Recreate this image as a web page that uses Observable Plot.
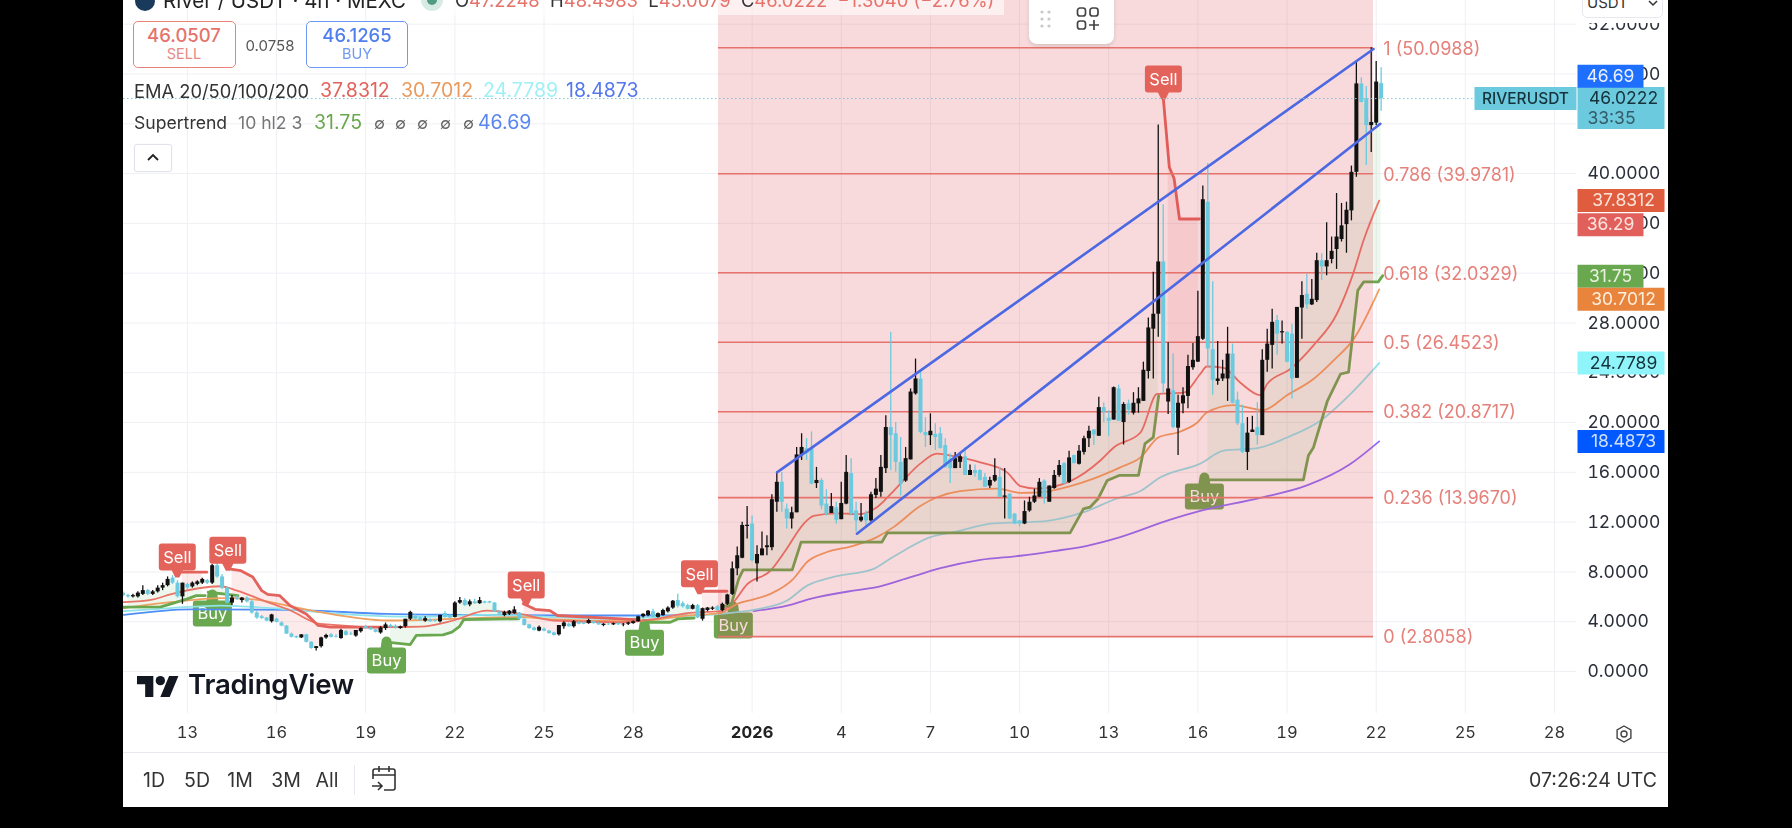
<!DOCTYPE html>
<html><head><meta charset="utf-8">
<style>
html,body{margin:0;padding:0;background:#000;width:1792px;height:828px;overflow:hidden;font-family:Inter,"Noto Sans",sans-serif}
#panel{position:absolute;left:123px;top:0;width:1545px;height:807px;background:#fff;overflow:hidden}
#chart{position:absolute;left:0;top:0;filter:blur(.45px)}
#chart svg{display:block}
#chrome{filter:blur(.4px)}
.a{position:absolute;white-space:nowrap;line-height:1}
.box{position:absolute;box-sizing:border-box;background:#fff;border-radius:5px}
</style>
<script src="https://cdn.jsdelivr.net/npm/d3@7"></script>
<script src="https://cdn.jsdelivr.net/npm/@observablehq/plot@0.6"></script>
</head><body>
<div id="panel"></div>
<div id="chart"></div>
<div id="chrome"></div>
<script>
// ---- Candles, 4h apart, rows of [open, high, low, close] ----
const lateDecemberA = [
[6.3,6.4,6.0,6.1],[6.1,6.2,5.9,6.0],[6.0,6.2,5.9,6.1],[6.0,6.4,5.9,6.3],[6.2,6.9,6.1,6.5],[6.5,6.6,6.1,6.2],[6.2,6.5,6.1,6.4],[6.4,6.9,6.3,6.7],[6.7,7.1,6.5,6.9],[6.9,7.6,6.8,7.4],
[7.5,7.7,7.0,7.1],[7.1,7.3,5.9,6.0],[6.0,7.1,5.4,7.1],[7.0,7.1,6.6,6.7],[6.8,7.2,6.7,7.1],[7.0,7.3,6.9,7.2],[7.1,7.5,7.0,7.4],[7.3,7.4,7.0,7.1],[7.1,8.6,7.0,8.5],[8.5,8.8,7.5,7.6],
[7.6,7.8,6.6,6.7],[6.7,6.8,5.4,5.5],[5.5,6.1,5.3,5.9],[5.9,6.1,5.7,5.8],[5.7,5.95,5.5,5.9],[5.9,6.0,5.5,5.6],[5.6,5.7,4.6,4.7],[4.7,4.8,4.2,4.3],[4.4,4.5,4.2,4.25],[4.3,4.35,4.0,4.05],
[4.0,4.6,3.9,4.55],[4.2,4.3,3.9,3.95],[3.9,4.0,3.6,3.65],[3.65,3.7,3.0,3.0],[3.0,3.1,2.7,2.75],[2.8,2.85,2.65,2.7],[2.7,2.95,2.65,2.95],[2.95,3.0,2.3,2.35],[2.35,2.4,1.8,1.85],[1.85,2.0,1.65,2.0],
[2.0,2.75,1.9,2.7],[2.7,3.0,2.6,2.9],[2.95,3.05,2.7,2.75],[2.8,2.95,2.7,2.75],[2.65,3.4,2.6,3.3],[3.2,3.3,2.85,2.9],[3.0,3.15,2.9,2.95],[2.85,3.3,2.75,3.3],[3.2,3.5,3.1,3.45],[3.6,3.7,3.4,3.45]
];
const lateDecemberB = [
[3.5,3.55,3.3,3.35],[3.35,3.4,3.1,3.15],[3.1,3.6,3.0,3.5],[3.45,3.9,3.3,3.75],[3.7,3.8,3.5,3.6],[3.65,3.75,3.4,3.5],[3.45,3.65,3.4,3.6],[3.6,4.2,3.5,4.2],[4.2,4.85,4.1,4.75],[4.45,4.6,4.15,4.2],
[4.3,4.4,4.05,4.1],[4.05,4.4,3.95,4.25],[4.15,4.25,3.95,4.0],[4.1,4.2,3.95,4.05],[4.0,4.55,3.9,4.5],[4.65,4.8,4.3,4.35],[4.5,4.6,4.25,4.3],[4.35,5.6,4.3,5.5],[5.5,5.95,5.4,5.7],[5.7,5.85,5.25,5.3],
[5.35,5.75,5.2,5.6],[5.6,5.8,5.4,5.45],[5.45,5.95,5.4,5.7],[5.6,5.65,5.45,5.5],[5.6,5.65,5.45,5.5],[5.5,5.55,4.75,4.8],[4.8,4.9,4.55,4.6],[4.5,4.85,4.4,4.75],[4.6,4.9,4.5,4.85],[4.65,5.2,4.6,4.95],
[4.7,4.75,4.15,4.2],[4.2,4.25,3.65,3.7],[3.75,3.8,3.4,3.45],[3.5,3.55,3.25,3.3],[3.25,3.65,3.2,3.55],[3.4,3.5,3.2,3.25],[3.25,3.3,3.0,3.05],[3.1,3.15,2.85,2.9],[2.95,3.7,2.85,3.7],[3.6,4.0,3.4,3.9],
[3.8,3.9,3.55,3.6],[3.6,4.1,3.5,4.0],[3.95,4.0,3.75,3.8],[3.9,4.0,3.75,3.8],[3.85,4.2,3.8,4.1],[4.0,4.1,3.8,3.85],[3.85,3.95,3.7,3.75],[3.7,3.85,3.6,3.8],[3.8,3.85,3.7,3.75],[3.75,3.9,3.7,3.85],[3.85,3.9,3.7,3.75]
];
const yearEnd = [
[3.75,3.85,3.6,3.8],[3.8,3.95,3.7,3.9],[3.85,4.05,3.8,4.0],[4.0,4.45,3.95,4.4],[4.4,4.65,4.3,4.6],[4.5,4.9,4.4,4.85],[4.8,5.0,4.3,4.35],[4.35,4.7,4.3,4.65],[4.5,5.0,4.45,4.9],[4.8,5.2,4.7,5.1],
[5.1,5.7,5.0,5.65],[5.7,6.2,5.1,5.25],[5.45,5.6,5.1,5.2],[5.3,5.4,4.95,5.0],[5.0,5.4,4.95,5.3],[5.3,5.4,4.25,4.3],[4.2,5.1,4.05,5.05],[4.9,5.15,4.8,5.1],[5.0,5.2,4.9,5.1],[5.2,5.3,4.85,4.9],
[4.9,5.5,4.8,5.4],[5.4,6.2,5.3,6.15],[6.2,8.8,6.1,8.25],[8.25,10.0,7.7,9.3],[9.1,12.0,9.05,11.73],[11.65,13.25,10.65,11.75]
];
const earlyJanuary = [
[11.85,12.5,8.8,8.9],[8.65,10.1,7.2,9.4],[9.3,11.2,9.3,9.85],[9.95,10.9,9.3,10.1],[9.95,14.2,9.7,13.8],[13.6,16.0,12.8,15.2],[15.2,16.0,12.8,13.6],[13.05,13.45,11.45,12.25],[12.25,13.2,11.45,12.75],[12.75,18.0,12.75,17.4],
[17.35,19.1,16.95,18.0],[17.9,18.7,16.95,17.5],[17.95,19.25,15.0,15.05],[15.1,16.4,14.7,15.35],[15.35,15.5,13.0,13.3],[13.45,14.6,12.5,12.65],[12.7,14.3,12.7,13.25],[13.15,13.6,11.85,12.15],[12.2,15.2,12.2,13.5],[13.45,17.35,13.4,16.0],
[15.9,17.1,12.5,12.65],[12.9,13.6,11.2,12.1],[12.1,13.5,12.0,12.4],[12.65,12.9,11.6,12.1],[12.1,14.4,12.0,14.2],[14.15,15.5,13.9,14.65],[14.4,17.35,14.0,16.4],[16.3,20.55,15.9,19.6],[19.6,27.25,16.15,18.95],[19.1,20.0,16.0,16.8],
[16.8,18.8,14.1,15.05],[15.3,18.0,15.2,17.1],[17.0,22.7,17.0,22.45],[22.3,25.1,22.2,23.5],[23.5,24.2,19.1,19.2],[19.2,20.4,18.0,18.95],[18.95,20.7,18.15,19.3],[19.05,19.9,17.75,18.8],[19.1,19.6,17.9,17.9],[18.15,18.7,16.3,16.4],
[17.05,17.5,15.1,16.3],[16.3,17.6,16.3,17.1],[16.8,17.6,16.3,17.25],[17.25,18.0,15.75,15.75],[15.75,16.6,15.75,16.15],[16.15,16.6,15.6,15.9],[16.15,16.2,15.3,15.35],[15.6,15.9,14.8,14.8],[14.9,15.6,14.7,15.35],[15.3,17.1,15.2,15.75]
];
const midJanuary = [
[15.6,16.4,14.0,14.0],[14.0,16.3,12.25,14.1],[14.25,14.3,12.2,12.25],[12.65,12.7,11.8,11.85],[12.1,12.15,11.6,11.85],[11.85,13.7,11.8,12.85],[12.9,14.0,12.8,13.6],[13.6,14.65,13.5,14.1],[14.0,15.5,14.0,15.2],[15.3,15.4,13.45,13.98],
[13.6,14.9,13.6,14.9],[14.7,16.15,14.65,15.75],[15.75,16.95,15.6,16.55],[16.7,16.8,15.07,15.07],[15.2,17.7,15.1,17.16],[17.35,17.4,16.7,16.7],[16.65,18.15,16.6,17.7],[17.6,18.9,17.4,18.7],[18.7,19.7,18.0,19.3],[19.4,19.45,18.15,19.0],
[18.9,22.04,18.9,21.2],[21.2,21.6,20.0,20.8],[20.35,20.95,18.9,20.1],[20.2,22.85,20.2,22.8],[22.7,23.0,20.1,20.1],[20.0,21.6,18.2,21.45],[21.5,21.8,20.6,21.0],[20.75,22.4,20.6,21.55],[21.5,22.8,20.75,21.9],[21.7,24.85,21.7,24.2],
[24.1,28.4,23.5,27.6],[27.5,32.07,23.5,28.7],[28.7,43.9,26.85,32.9],[32.9,37.5,22.3,23.1],[21.65,26.4,20.65,22.7],[22.55,25.5,19.5,19.6],[19.55,22.2,17.35,21.55],[21.5,22.8,20.7,22.15],[22.1,25.4,21.1,24.5],[24.4,26.35,24.2,25.0]
];
const lateJanuary = [
[24.85,30.55,24.85,26.9],[26.7,39.0,26.6,37.9],[37.7,40.8,24.4,25.9],[25.85,31.3,22.2,23.4],[23.3,26.5,23.0,23.5],[23.5,25.0,23.3,23.9],[23.5,27.65,21.7,25.5],[25.5,26.3,21.5,21.55],[21.8,22.45,19.75,19.9],[19.9,21.4,17.5,17.6],
[17.6,20.4,16.15,19.15],[19.2,20.5,19.2,19.4],[19.6,21.6,18.2,18.95],[18.95,25.85,18.95,25.0],[25.0,27.5,24.05,26.3],[26.2,29.1,24.3,28.05],[28.2,28.6,25.4,27.1],[27.2,28.15,26.3,27.3],[27.25,27.3,24.8,24.85],[27.1,27.9,21.9,23.5],
[23.55,29.25,23.55,29.25],[29.2,31.3,26.7,30.2],[30.3,31.9,29.1,29.45],[29.45,31.5,29.4,29.9],[29.8,33.6,29.65,33.0],[33.0,33.55,31.4,32.5],[32.5,36.05,31.8,33.0],[33.1,34.9,32.75,33.75],[33.9,38.4,32.3,34.9],[34.7,37.6,34.5,35.8],
[35.9,37.7,33.6,37.05],[37.0,40.6,36.2,40.1],[40.1,48.95,39.7,47.2],[47.2,47.7,45.7,45.7],[46,47,40.65,43.85],[43.85,50.0988,41.7,44.1],[44.05,49,43.85,47.35],[47.2248,48.4983,45.0079,46.0222]
];
// x is days since 1 Jan 2026
const firstCandleIndex = -127, candlesPerDay = 6;

// ---- EMAs, rows of [day, price] ----
const ema20 = [[-21.14,5.57],[-20.14,5.8],[-19.57,6.2],[-17.89,6.85],[-17.33,6.5],[-16.44,5.7],[-15.53,4.9],[-14.53,3.83],[-12.28,3.56],[-11.16,3.6],[-10.05,4.1],[-8.92,4.9],[-7.8,4.63],[-6.68,4.1],[-4.43,3.96],[-3.31,4.2],[-2.19,4.7],[-1.07,4.85],[-0.62,5.6],[-0.17,7.0],[0.62,8.1],[1.12,9.7],[1.73,11.85],[2.07,12.5],[2.86,12.7],[3.64,12.65],[4.2,13.2],[4.76,14.5],[5.66,16.7],[6.22,17.5],[6.78,17.3],[7.68,16.8],[8.58,16.0],[9.03,14.9],[9.59,14.7],[10.71,15.3],[11.72,16.95],[12.17,18.0],[13.07,19.2],[13.63,22.3],[14.52,22.4],[15.08,23.9],[15.3,24.5],[15.87,24.4],[16.43,23.2],[17.1,22.2],[17.33,23.1],[18.11,24.3],[18.89,26.2],[19.67,28.7],[20.23,32.0],[20.57,34.6],[21.1,37.83]];
const ema50 = [[-21.14,5.1],[-19.57,5.57],[-17.89,5.9],[-16.78,5.8],[-15.64,5.3],[-14.53,4.77],[-12.28,4.1],[-10.05,4.23],[-7.8,4.37],[-6.68,4.18],[-4.43,4.04],[-3.31,4.15],[-2.19,4.5],[-1.07,4.7],[-0.5,5.44],[0.05,5.8],[0.62,6.24],[1.39,7.44],[1.85,8.8],[2.52,9.6],[3.41,10.1],[4.2,10.8],[4.76,11.6],[5.66,13.3],[6.22,14.0],[7.0,14.5],[8.24,14.7],[9.03,14.35],[9.7,14.4],[10.71,14.9],[11.49,15.5],[12.39,16.4],[13.07,17.2],[13.67,18.8],[14.31,19.2],[14.98,20.0],[15.3,20.8],[16.2,21.4],[17.2,21.0],[18.0,22.2],[18.89,23.5],[19.57,25.0],[20.24,26.7],[21.1,30.7]];
const ema100 = [[-21.14,4.85],[-19.57,5.1],[-17.89,5.3],[-15.64,5.0],[-13.4,4.55],[-11.16,4.4],[-8.92,4.55],[-6.68,4.37],[-4.43,4.23],[-3.31,4.37],[-1.07,4.63],[0.05,4.95],[1.18,5.7],[1.85,6.9],[2.74,7.6],[4.09,8.25],[4.54,8.9],[5.2,9.85],[6.0,10.8],[6.78,11.2],[8.13,11.9],[9.82,12.07],[11.16,12.8],[12.28,13.9],[13.07,14.5],[13.74,15.6],[15.08,16.7],[15.87,17.75],[17.0,17.95],[18.0,18.8],[19.12,20.15],[20.24,22.55],[21.1,24.78]];
const ema200 = [[-21.14,4.55],[-18.9,5.0],[-15.53,4.95],[-12.28,4.63],[-10.05,4.55],[-6.68,4.5],[-4.43,4.5],[-2.19,4.5],[0.05,4.85],[1.18,5.3],[1.96,5.84],[3.41,6.5],[4.2,6.78],[5.33,7.58],[6.34,8.3],[7.68,8.97],[9.03,9.3],[10.15,9.67],[11.27,10.1],[12.39,10.8],[14.07,12.2],[15.08,12.9],[17.1,13.95],[18.67,14.95],[20.13,16.67],[21.1,18.49]];

// ---- Supertrend runs, rows of [day, price] ----
const stUp1 = [[-21.14,5.17],[-19.9,5.2],[-19.55,5.44],[-19.0,5.84],[-18.7,6.1],[-18.4,6.1]];
const stUp2 = [[-18.3,6.37],[-17.5,6.15],[-17.3,6.1]];
const stUp3 = [[-12.3,2.36],[-11.5,2.17],[-11.3,2.9],[-10.4,2.95],[-10.1,3.16],[-9.85,3.6],[-9.7,4.18],[-7.85,4.23]];
const stUp4 = [[-3.6,3.96],[-2.75,3.96],[-2.5,4.23],[-1.95,4.3]];
const stUp5 = [[-1.0,5.17],[-0.7,5.4],[-0.45,7.44],[-0.3,8.17],[1.35,8.17],[1.65,10.4],[4.37,10.4],[4.55,11.14],[10.7,11.14],[11.15,13.07],[11.37,13.2],[11.65,13.9],[11.95,15.35],[12.35,15.75],[13.0,15.75],[13.22,18.3],[13.5,18.8],[13.68,22.15]];
const stUp6 = [[15.22,15.4],[18.55,15.4],[18.72,17.35],[18.89,18.0],[19.36,21.75],[19.8,23.9],[20.07,24.05],[20.38,30.6],[20.58,31.3],[21.07,31.3],[21.22,31.8]];
const stDown1 = [[-19.3,7.98],[-18.35,7.98]];
const stDown2 = [[-17.6,8.25],[-17.2,8.1],[-16.8,7.6],[-16.5,6.5],[-16.3,6.2],[-15.9,6.1],[-15.55,5.3],[-15.0,4.63],[-14.6,3.7],[-14.2,3.56],[-12.45,3.56]];
const stDown3 = [[-7.7,5.44],[-7.3,5.0],[-6.8,4.9],[-6.55,4.5],[-4.4,4.23],[-3.8,4.15]];
const stDown4 = [[-1.8,6.45],[-0.85,6.45]];
const stDown5 = [[13.84,45.95],[14.04,40.5],[14.2,39.6],[14.38,36.35],[15.05,36.35]];

// ---- Channel and Fibonacci ----
const channelUpper = [[0.84,16.0],[20.91,50.0]];
const channelLower = [[3.53,11.07],[21.14,44.0]];
const fibLevels = ["1","0.786","0.618","0.5","0.382","0.236","0"];
const fibPrices = [50.0988,39.9781,32.0329,26.4523,20.8717,13.967,2.8058];
const fibPriceText = ["50.0988","39.9781","32.0329","26.4523","20.8717","13.9670","2.8058"];
const fibStart = -1.13, fibEnd = 20.91, fibLabelDay = 21.24;

// ---- Signals ----
const sellDays = [-19.34,-17.64,-7.6,-1.77,13.84];
const sellPrices = [7.55,8.1,5.3,6.2,45.95];
const buyDays = [-18.16,-12.3,-3.62,-0.63,15.22];
const buyPrices = [6.35,2.57,4.0,5.38,15.74];

// ---- Axes ----
const dayTicks = [-19,-16,-13,-10,-7,-4,3,6,9,12,15,18,21,24,27];
const dayLabels = ["13","16","19","22","25","28","4","7","10","13","16","19","22","25","28"];
const yearTick = 0, yearLabel = "2026";
const priceTicks = [0,4,8,12,16,20,24,28,32,36,40,44,48,52];
const lastPrice = 46.0222;

// ---- Price tags on the axis ----
const tagValues = [46.69,37.8312,36.29,31.75,30.7012,24.7789,18.4873];
const tagTexts = ["46.69","37.8312","36.29","31.75","30.7012","24.7789","18.4873"];
const tagFills = ["#1f6fff","#e05c3e","#e2605c","#6aa84f","#e8843c","#8ff5fb","#0059ff"];
const tagInk = ["#e8f0ff","#fbe3d8","#fbe3e0","#e8f2e0","#fdeedd","#16323a","#cfe0ff"];
const tagLong = [false,true,false,false,true,true,true];
const tagShift = [-14,0,5,0,10,0,0];

const candles = [...lateDecemberA,...lateDecemberB,...yearEnd,...earlyJanuary,...midJanuary,...lateJanuary]
  .map(([o,h,l,c],i)=>({t:(firstCandleIndex+i)/candlesPerDay,o,h,l,c,up:c>=o}));
const toRows = (runs)=>runs.flatMap((r,z)=>r.map(([t,p])=>({t,p,z})));
const upRuns=[stUp1,stUp2,stUp3,stUp4,stUp5,stUp6], downRuns=[stDown1,stDown2,stDown3,stDown4,stDown5];
// band between a run and the candle bodies
const band = (runs)=>runs.flatMap((r,z)=>{
  const out=[];
  for(const c of candles){
    if(c.t<r[0][0]||c.t>r[r.length-1][0]) continue;
    const i=Math.max(1,d3.bisector(d=>d[0]).right(r,c.t)); const [t0,p0]=r[i-1],[t1,p1]=r[Math.min(i,r.length-1)];
    const st=t1===t0?p0:p0+(p1-p0)*(c.t-t0)/(t1-t0);
    out.push({t:c.t,st,mid:(c.o+c.c)/2,z});
  }
  return out;
});
const pts = (arr)=>arr.map(([t,p])=>({t,p}));

function rr(ctx,x,y,w,h,r){ctx.moveTo(x+r,y);ctx.lineTo(x+w-r,y);ctx.arcTo(x+w,y,x+w,y+r,r);ctx.lineTo(x+w,y+h-r);ctx.arcTo(x+w,y+h,x+w-r,y+h,r);ctx.lineTo(x+r,y+h);ctx.arcTo(x,y+h,x,y+h-r,r);ctx.lineTo(x,y+r);ctx.arcTo(x,y,x+r,y,r);ctx.closePath();}
const sellShape={draw(ctx){rr(ctx,-18.5,-34,37,27,3);ctx.moveTo(-6,-8);ctx.lineTo(6,-8);ctx.lineTo(2,0);ctx.lineTo(-2,0);ctx.closePath();}};
const buyShape={draw(ctx){rr(ctx,-19.5,8,39,26,3);ctx.moveTo(-5,2);ctx.arcTo(-5,-3,0,-3,5);ctx.arcTo(5,-3,5,2,5);ctx.lineTo(6,9);ctx.lineTo(-6,9);ctx.closePath();}};
const box=(x,y,w,h)=>({draw(ctx){ctx.moveTo(x,y);ctx.lineTo(x+w,y);ctx.lineTo(x+w,y+h);ctx.lineTo(x,y+h);ctx.closePath();}});

const paneEnd = 27.74;
const tagRows = tagValues.map((v,i)=>({v,text:tagTexts[i],fill:tagFills[i],ink:tagInk[i],long:tagLong[i],shift:tagShift[i]}));
const tagShape=(d)=>box(1,-11.5+d.shift,d.long?87:66,23);
const tagMarks = tagRows.flatMap(d=>[
  Plot.dot([d],{x:()=>paneEnd,y:"v",symbol:tagShape(d),fill:d.fill,stroke:"none"}),
  Plot.text([d],{x:()=>paneEnd,y:"v",text:"text",dx:d.long?47:34,dy:d.shift,fill:d.ink,fontSize:17.5,textAnchor:"middle"})
]);

const plot = Plot.plot({
  width:1792,height:828,marginLeft:123,marginRight:216,marginTop:0,marginBottom:115,
  style:{background:"transparent",fontFamily:"Inter, sans-serif"},
  x:{domain:[-21.15,paneEnd],axis:null},
  y:{domain:[-3.37,53.9],axis:null},
  marks:[
    Plot.gridX([...dayTicks,yearTick],{stroke:"#eef0f4",strokeOpacity:1}),
    Plot.gridY(priceTicks,{stroke:"#eef0f4",strokeOpacity:1}),
    // supertrend shading
    Plot.areaY(band(upRuns),{x:"t",y1:"st",y2:"mid",z:"z",fill:"#4caf50",fillOpacity:0.1}),
    Plot.areaY(band(downRuns),{x:"t",y1:"st",y2:"mid",z:"z",fill:"#e53935",fillOpacity:0.1}),
    // Buy tags sit under the Fibonacci tint
    Plot.dot(buyDays.map((t,i)=>({t,p:buyPrices[i]})),{x:"t",y:"p",symbol:buyShape,fill:"#6aa84f",stroke:"none"}),
    Plot.text(buyDays.map((t,i)=>({t,p:buyPrices[i]})),{x:"t",y:"p",text:()=>"Buy",dy:21,fill:"#fff",fontSize:16.5}),
    // EMAs
    Plot.line(pts(ema200),{x:"t",y:"p",stroke:d=>d.t<-1.2?"#4f8ef7":"#8f6cff",curve:"monotone-x",strokeWidth:1.8}),
    Plot.line(pts(ema100),{x:"t",y:"p",stroke:"#8fe4ea",curve:"monotone-x",strokeWidth:1.8}),
    Plot.line(pts(ema50),{x:"t",y:"p",stroke:"#f0a060",curve:"monotone-x",strokeWidth:1.8}),
    Plot.line(pts(ema20),{x:"t",y:"p",stroke:"#ea7467",curve:"monotone-x",strokeWidth:1.8}),
    // Supertrend
    Plot.line(toRows(upRuns),{x:"t",y:"p",z:"z",stroke:"#6aa84f",strokeWidth:2.8}),
    Plot.line(toRows(downRuns),{x:"t",y:"p",z:"z",stroke:"#e3625b",strokeWidth:2.8}),
    // Fibonacci tint
    Plot.rect([{}],{x1:()=>fibStart,x2:()=>fibEnd,y1:()=>fibPrices[6],y2:()=>53.9,fill:"#dc4650",fillOpacity:0.2}),
    Plot.ruleY(fibPrices,{x1:fibStart,x2:fibEnd,stroke:"#e5736b",strokeWidth:1.6}),
    // Candles
    Plot.ruleX(candles,{x:"t",y1:"l",y2:"h",stroke:d=>d.up?"#111":"#6ccadf",strokeWidth:1.3}),
    Plot.ruleX(candles,{x:"t",y1:"o",y2:"c",stroke:d=>d.up?"#111":"#6ccadf",strokeWidth:4,strokeLinecap:"butt"}),
    // Channel
    Plot.line(pts(channelUpper),{x:"t",y:"p",stroke:"#4c68e2",strokeWidth:2.6}),
    Plot.line(pts(channelLower),{x:"t",y:"p",stroke:"#4c68e2",strokeWidth:2.6}),
    // Sell tags
    Plot.dot(sellDays.map((t,i)=>({t,p:sellPrices[i]})),{x:"t",y:"p",symbol:sellShape,fill:"#e3635b",stroke:"none"}),
    Plot.text(sellDays.map((t,i)=>({t,p:sellPrices[i]})),{x:"t",y:"p",text:()=>"Sell",dy:-20,fill:"#fff",fontSize:16.5}),
    // Last price line
    Plot.ruleY([lastPrice],{stroke:"#6ccadf",strokeWidth:1,strokeDasharray:"1.5 2.5"}),
    // Fib labels
    Plot.text(fibLevels.map((l,i)=>({l,p:fibPrices[i],s:fibPriceText[i]})),{x:()=>fibLabelDay,y:"p",dy:1,text:d=>`${d.l} (${d.s})`,textAnchor:"start",fill:"#e5807a",fontSize:18}),
    // Axes
    Plot.axisY(priceTicks,{anchor:"right",tickSize:0,tickPadding:11,tickFormat:d=>d.toFixed(4),fontSize:17.5,fill:"#2a2e39",label:null}),
    Plot.axisX(dayTicks,{anchor:"bottom",tickSize:0,tickPadding:13,tickFormat:(d)=>dayLabels[dayTicks.indexOf(d)],fontSize:16.5,fill:"#333",label:null}),
    Plot.axisX([yearTick],{anchor:"bottom",tickSize:0,tickPadding:13,tickFormat:()=>yearLabel,fontSize:16.5,fontWeight:700,fill:"#222",label:null}),
    // Tags
    Plot.dot([{v:lastPrice}],{x:()=>paneEnd,y:"v",symbol:box(-102,-11.5,102,23),fill:"#6ccadf",stroke:"none"}),
    Plot.text([{v:lastPrice}],{x:()=>paneEnd,y:"v",text:()=>"RIVERUSDT",dx:-51,fill:"#16323a",fontSize:15.5,fontWeight:500}),
    Plot.dot([{v:lastPrice}],{x:()=>paneEnd,y:"v",symbol:box(1,-11.5,87,42),fill:"#6ccadf",stroke:"none"}),
    Plot.text([{v:lastPrice}],{x:()=>paneEnd,y:"v",text:()=>lastPrice.toFixed(4),dx:47,fill:"#16323a",fontSize:17.5}),
    Plot.text([{v:lastPrice}],{x:()=>paneEnd,y:"v",text:()=>"33:35",dx:35,dy:20,fill:"#355c68",fontSize:17.5}),
    ...tagMarks
  ]
});
document.getElementById("chart").appendChild(plot);

// ---- Screen furniture around the chart ----
const T=(x,y,s,css="")=>`<div class="a" style="left:${x}px;top:${y}px;${css}">${s}</div>`;
const C=(x,y,s,css="")=>T(x,y,s,`transform:translate(-50%,-50%);${css}`);
const R="#e5736b";
let h="";
h+=`<div style="position:absolute;left:0;top:0;width:123px;height:828px;background:#000"></div>`;
h+=`<div style="position:absolute;left:1668px;top:0;width:124px;height:828px;background:#000"></div>`;
h+=`<div style="position:absolute;left:0;top:807px;width:1792px;height:21px;background:#000"></div>`;
h+=`<div style="position:absolute;left:123px;top:752px;width:1545px;height:1px;background:#e6e8ee"></div>`;
// header
h+=`<div style="position:absolute;left:426px;top:0;width:578px;height:15px;background:rgba(255,255,255,.6)"></div>`;
h+=`<div style="position:absolute;left:135px;top:-9px;width:20px;height:20px;border-radius:50%;background:#1a3a5c"></div>`;
h+=T(163,-9,"River / USDT · 4h · MEXC","font-size:20.5px;color:#222");
h+=`<div style="position:absolute;left:421px;top:-11px;width:22px;height:22px;border-radius:50%;background:#d7ebe4"></div><div style="position:absolute;left:427px;top:-5px;width:10px;height:10px;border-radius:50%;background:#4f9c82"></div>`;
h+=T(455,-9,`<span style="color:#333">O</span>47.2248 <span style="color:#333">&nbsp;H</span>48.4983 <span style="color:#333">&nbsp;L</span>45.0079 <span style="color:#333">&nbsp;C</span>46.0222 &nbsp;−1.3040 (−2.76%)`,`font-size:18.4px;color:${R}`);
// sell / buy boxes
h+=`<div class="box" style="left:133px;top:21px;width:103px;height:47px;border:1.5px solid #e8837b"></div>`;
h+=C(184,35,"46.0507",`font-size:18.5px;font-weight:500;color:${R}`)+C(184,54,"SELL",`font-size:14.5px;color:#e88a84`);
h+=C(270,45,"0.0758","font-size:15px;color:#555");
h+=`<div class="box" style="left:306px;top:21px;width:102px;height:47px;border:1.5px solid #6f97f4"></div>`;
h+=C(357,35,"46.1265",`font-size:18.5px;font-weight:500;color:#4f7fef`)+C(357,54,"BUY",`font-size:14.5px;color:#6f97f4`);
// legend lines
h+=T(134,82,"EMA 20/50/100/200","font-size:18.3px;color:#333");
h+=T(320,81,"37.8312",`font-size:19.5px;color:#e3625b`)+T(401,81,"30.7012",`font-size:19.5px;color:#ea9a5c`)+T(483,81,"24.7789",`font-size:19.5px;color:#9ff0f5`)+T(566,81,"18.4873",`font-size:19.5px;color:#5577ee`);
h+=T(134,114,"Supertrend","font-size:17.6px;color:#333")+T(238,114,"10 hl2 3","font-size:17.6px;color:#777");
h+=T(314,113,"31.75","font-size:19.5px;color:#6aa84f");
for(const x of [374,395,417,440,463]) h+=T(x,115,"∅","font-size:16px;color:#666");
h+=T(478,113,"46.69","font-size:19.5px;color:#5b86f0");
h+=`<div class="box" style="left:134px;top:144px;width:38px;height:28px;border:1px solid #e0e3eb;border-radius:3px;box-shadow:0 0 2px rgba(0,0,0,.06)"></div>`;
h+=`<svg style="position:absolute;left:146px;top:152px" width="14" height="10"><path d="M2 8 L7 3 L12 8" fill="none" stroke="#222" stroke-width="1.8"/></svg>`;
// floating toolbar
h+=`<div style="position:absolute;left:1029px;top:-10px;width:85px;height:54px;background:#fff;border-radius:8px;box-shadow:0 2px 4px rgba(0,0,0,.12)"></div>`;
h+=`<svg style="position:absolute;left:1038px;top:6px" width="64" height="26" fill="none" stroke="#444" stroke-width="1.7"><g fill="#c9c9c9" stroke="none"><circle cx="4" cy="6" r="1.6"/><circle cx="11" cy="6" r="1.6"/><circle cx="4" cy="13" r="1.6"/><circle cx="11" cy="13" r="1.6"/><circle cx="4" cy="20" r="1.6"/><circle cx="11" cy="20" r="1.6"/></g><rect x="39.5" y="2" width="8" height="8" rx="2.5"/><rect x="52" y="2" width="8" height="8" rx="2.5"/><rect x="39.5" y="15" width="8" height="8" rx="2.5"/><path d="M51 19h10M56 14v10"/></svg>`;
// currency dropdown, with the strip under it that trims the top price label
h+=`<div style="position:absolute;left:1582px;top:16px;width:81px;height:7px;background:#fff"></div>`;
h+=`<div style="position:absolute;left:1582px;top:-12px;width:81px;height:30px;background:#fff;border:1px solid #e6e8ee;border-radius:5px;box-sizing:border-box"></div>`;
h+=T(1587,-5,"USDT","font-size:15px;color:#333");
h+=`<svg style="position:absolute;left:1647px;top:0" width="12" height="8"><path d="M2 1 L6 5 L10 1" fill="none" stroke="#333" stroke-width="1.5"/></svg>`;
// logo
h+=`<svg style="position:absolute;left:137px;top:674px" width="42" height="25" viewBox="0 3 36 20"><path d="M14 22H7V11H0V4h14v18zM28 22h-8l7.5-18h8L28 22z" fill="#131722"/><circle cx="20" cy="8" r="4" fill="#131722"/></svg>`;
h+=T(188,671,"TradingView","font-size:27.6px;font-weight:600;color:#131722;letter-spacing:-.2px");
// bottom bar
[["1D",154],["5D",197],["1M",240],["3M",286],["All",327]].forEach(([s,x])=>h+=C(x,781,s,"font-size:19.5px;color:#333"));
h+=`<div style="position:absolute;left:354px;top:765px;width:1px;height:30px;background:#e6e8ee"></div>`;
h+=`<svg style="position:absolute;left:370px;top:765px" width="28" height="28" fill="none" stroke="#333" stroke-width="1.6"><path d="M3 14V6a2 2 0 0 1 2-2h18a2 2 0 0 1 2 2v17a2 2 0 0 1-2 2h-9M3 10h22M9 1v6M19 1v6M2 21h10M8 17l4 4-4 4"/></svg>`;
h+=T(1657,771,"07:26:24 UTC","font-size:19.5px;color:#333;transform:translateX(-100%)");
h+=`<svg style="position:absolute;left:1614px;top:724px" width="20" height="20" fill="none" stroke="#444" stroke-width="1.4"><path d="M10 2l6.9 4v8L10 18l-6.9-4V6z"/><circle cx="10" cy="10" r="3"/></svg>`;
document.getElementById("chrome").innerHTML=h;
</script>
</body></html>
